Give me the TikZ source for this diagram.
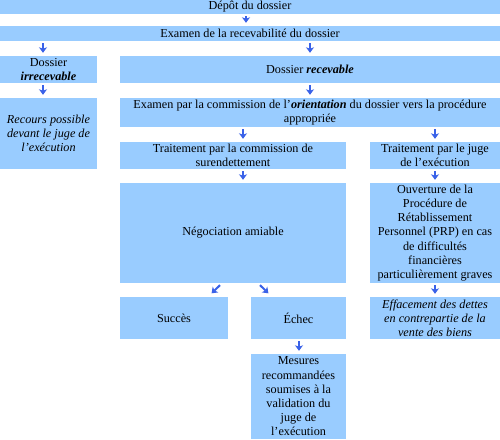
\documentclass[tikz,border=0pt]{standalone}
\usepackage{fontspec}
\setmainfont{Liberation Serif}
\usetikzlibrary{arrows.meta}
\definecolor{boxblue}{RGB}{153,204,255}
\definecolor{arrblue}{RGB}{58,98,232}
\begin{document}
\begin{tikzpicture}[x=1pt,y=-1pt,
  box/.style={fill=boxblue,draw=none,inner sep=0pt,align=center,
    font=\fontsize{12.2}{14.2}\selectfont},
  arr/.style={draw=arrblue,line width=2pt,
    -{Stealth[length=5.5pt,width=8pt,inset=1.5pt]},
    shorten <=2pt,shorten >=3pt}]
\useasboundingbox (0,0) rectangle (500,439);
% boxes
\node[box,minimum width=500pt,minimum height=14pt] (depot) at (250,7) {Dépôt du dossier};
\node[box,minimum width=500pt,minimum height=15pt] (exam) at (250,33.5) {Examen de la recevabilité du dossier};
\node[box,minimum width=97pt,minimum height=27pt] (irr) at (48.5,69.5) {Dossier\\\textbf{\textit{irrecevable}}};
\node[box,minimum width=380pt,minimum height=27pt] (rec) at (310,69.5) {Dossier \textbf{\textit{recevable}}};
\node[box,minimum width=97pt,minimum height=71pt] (recours) at (48.5,133.5) {\itshape Recours possible\\\itshape devant le juge de\\\itshape l’exécution};
\node[box,minimum width=380pt,minimum height=29pt] (orient) at (310,112.5) {Examen par la commission de l’\textbf{\textit{orientation}} du dossier vers la procédure\\appropriée};
\node[box,minimum width=226pt,minimum height=27pt] (trcom) at (233,155.5) {Traitement par la commission de\\surendettement};
\node[box,minimum width=130pt,minimum height=27pt] (trjuge) at (435,155.5) {Traitement par le juge\\de l’exécution};
\node[box,minimum width=226pt,minimum height=100pt] (nego) at (233,233) {Négociation amiable};
\node[box,minimum width=130pt,minimum height=100pt] (ouv) at (435,233) {Ouverture de la\\Procédure de\\Rétablissement\\Personnel (PRP) en cas\\de difficultés\\financières\\particulièrement graves};
\node[box,minimum width=108pt,minimum height=42pt] (succes) at (174,318) {Succès};
\node[box,minimum width=95pt,minimum height=42pt] (echec) at (298.5,318) {Échec};
\node[box,minimum width=130pt,minimum height=42pt] (eff) at (435,318) {\itshape Effacement des dettes\\\itshape en contrepartie de la\\\itshape vente des biens};
\node[box,minimum width=95pt,minimum height=85pt] (mes) at (298.5,396.5) {Mesures\\recommandées\\soumises à la\\validation du\\juge de\\l’exécution};
% column coordinates
\coordinate (xa) at (43,0);
\coordinate (xb) at (246,0);
\coordinate (xc) at (310,0);
\coordinate (xd) at (243,0);
\coordinate (xe) at (435,0);
\coordinate (xf) at (299,0);
\coordinate (xg1) at (222,0);
\coordinate (xg2) at (208,0);
\coordinate (xh1) at (258,0);
\coordinate (xh2) at (272,0);
% arrows
\draw[arr] (depot.south -| xb) -- (exam.north -| xb);
\draw[arr] (exam.south -| xa) -- (irr.north -| xa);
\draw[arr] (exam.south -| xc) -- (rec.north -| xc);
\draw[arr] (irr.south -| xa) -- (recours.north -| xa);
\draw[arr] (rec.south -| xc) -- (orient.north -| xc);
\draw[arr] (orient.south -| xd) -- (trcom.north -| xd);
\draw[arr] (orient.south -| xe) -- (trjuge.north -| xe);
\draw[arr] (trcom.south -| xd) -- (nego.north -| xd);
\draw[arr] (trjuge.south -| xe) -- (ouv.north -| xe);
\draw[arr,shorten <=2.8pt,shorten >=5pt] (nego.south -| xg1) -- (succes.north -| xg2);
\draw[arr,shorten <=2.8pt,shorten >=5pt] (nego.south -| xh1) -- (echec.north -| xh2);
\draw[arr] (ouv.south -| xe) -- (eff.north -| xe);
\draw[arr] (echec.south -| xf) -- (mes.north -| xf);
\end{tikzpicture}
\end{document}
